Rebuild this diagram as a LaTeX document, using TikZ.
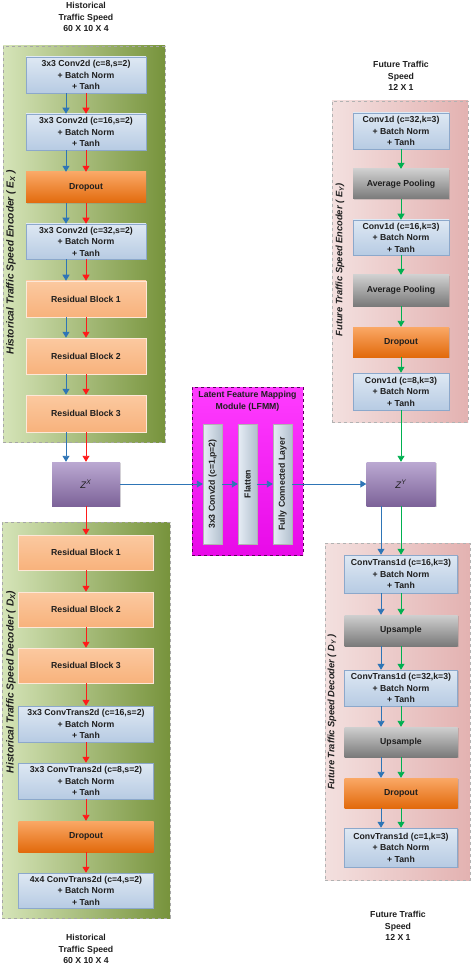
\documentclass[tikz,border=0pt]{standalone}
\usepackage{fontspec}
\setmainfont{Liberation Sans}
\usetikzlibrary{arrows.meta,shadows}
\definecolor{txt}{HTML}{1E1E1E}
\definecolor{greenL}{HTML}{D5E4B8}
\definecolor{greenR}{HTML}{77933C}
\definecolor{pinkL}{HTML}{F3E0DF}
\definecolor{pinkR}{HTML}{E3B2B1}
\definecolor{cvT}{HTML}{DEE8F3}
\definecolor{cvB}{HTML}{B7CBE3}
\definecolor{cvD}{HTML}{8CA8CB}
\definecolor{resT}{HTML}{FBC9A0}
\definecolor{resB}{HTML}{F8B27C}
\definecolor{drT}{HTML}{FAA866}
\definecolor{drB}{HTML}{E26A0C}
\definecolor{grT}{HTML}{CFCFCF}
\definecolor{grB}{HTML}{7A7A7A}
\definecolor{zT}{HTML}{BBA9D2}
\definecolor{zB}{HTML}{7D6399}
\definecolor{magT}{HTML}{FF3CFF}
\definecolor{magB}{HTML}{E80AE8}
\definecolor{barT}{HTML}{E6EDF5}
\definecolor{barB}{HTML}{B2C0CE}
\definecolor{bl}{HTML}{2E75B6}
\definecolor{rd}{HTML}{FF1A1A}
\definecolor{gn}{HTML}{00B050}
\tikzset{
  blk/.style={inner sep=0pt, align=center, text=txt,
    font=\fontsize{8.7}{11.5}\selectfont\bfseries,
    drop shadow={shadow xshift=1pt,shadow yshift=-1pt,opacity=0.3}},
  convbox/.style={blk, top color=cvT, bottom color=cvB, draw=cvD, line width=0.5pt},
  resbox/.style={blk, top color=resT, bottom color=resB, draw=white!70!resB, line width=0.5pt},
  dropbox/.style={blk, top color=drT, bottom color=drB},
  graybox/.style={blk, top color=grT, bottom color=grB},
  zbox/.style={blk, top color=zT, bottom color=zB, font=\fontsize{9.5}{11}\selectfont},
  barbox/.style={inner sep=0pt, left color=barT, right color=barB, draw=gray!60, line width=0.4pt,
    drop shadow={shadow xshift=1pt,shadow yshift=-1pt,opacity=0.3}},
  bartext/.style={rotate=90, inner sep=0pt, text=txt, font=\fontsize{8.7}{11}\selectfont\bfseries},
  gpanel/.style={inner sep=0pt, left color=greenL, right color=greenR, draw=gray!70, dashed, line width=0.6pt},
  ppanel/.style={inner sep=0pt, left color=pinkL, right color=pinkR, draw=gray!60, dashed, line width=0.6pt},
  mpanel/.style={inner sep=0pt, top color=magT, bottom color=magB, draw=violet!70!black, dashed, line width=0.6pt},
  sidelbl/.style={rotate=90, inner sep=0pt, text=txt, font=\fontsize{10.2}{12}\selectfont\bfseries\itshape},
  sidelblr/.style={sidelbl, font=\fontsize{9.3}{11}\selectfont\bfseries\itshape},
  ttl/.style={inner sep=0pt, align=center, text=txt, font=\fontsize{8.7}{11.6}\selectfont\bfseries},
  arr/.style={line width=0.9pt, -{Triangle[width=7pt,length=6pt]}},
  barr/.style={arr, draw=bl, fill=bl},
  rarr/.style={arr, draw=rd, fill=rd},
  garr/.style={arr, draw=gn, fill=gn},
}
\begin{document}
\begin{tikzpicture}[x=1pt,y=-1pt]
\useasboundingbox (0,0) rectangle (474,965);
% panels
\node[gpanel, minimum width=162pt, minimum height=396pt] (encL) at (84,244) {};
\node[gpanel, minimum width=168pt, minimum height=396pt] (decL) at (86,720) {};
\node[ppanel, minimum width=136pt, minimum height=321pt] (encR) at (400,261.5) {};
\node[ppanel, minimum width=145pt, minimum height=337pt] (decR) at (397.5,711.5) {};
\node[mpanel, minimum width=111pt, minimum height=168pt] (lfmm) at (247.5,471) {};
% side labels
\node[sidelbl] (lblEX) at (11,262) {Historical Traffic Speed Encoder ( E\textsubscript{X} )};
\node[sidelbl] (lblDX) at (11,682) {Historical Traffic Speed Decoder ( D\textsubscript{X})};
\node[sidelblr] (lblEY) at (340,260) {Future Traffic Speed Encoder ( E\textsubscript{Y})};
\node[sidelblr] (lblDY) at (332,712) {Future Traffic Speed Decoder ( D\textsubscript{Y} )};
% titles
\node[ttl] (tHin) at (86,17) {Historical\\Traffic Speed\\60 X 10 X 4};
\node[ttl] (tHout) at (86,949) {Historical\\Traffic Speed\\60 X 10 X 4};
\node[ttl] (tFin) at (401,76) {Future Traffic\\Speed\\12 X 1};
\node[ttl] (tFout) at (398,926) {Future Traffic\\Speed\\12 X 1};
\node[ttl] (tL) at (247.5,401) {Latent Feature Mapping\\Module (LFMM)};
% left encoder
\node[convbox, minimum width=120pt, minimum height=36pt] (e1) at (86,75) {3x3 Conv2d (c=8,s=2)\\+ Batch Norm\\+ Tanh};
\node[convbox, minimum width=120pt, minimum height=36pt] (e2) at (86,132) {3x3 Conv2d (c=16,s=2)\\+ Batch Norm\\+ Tanh};
\node[dropbox, minimum width=120pt, minimum height=31pt] (e3) at (86,187.5) {Dropout};
\node[convbox, minimum width=120pt, minimum height=35pt] (e4) at (86,241.5) {3x3 Conv2d (c=32,s=2)\\+ Batch Norm\\+ Tanh};
\node[resbox, minimum width=120pt, minimum height=36pt] (e5) at (86,299) {Residual Block 1};
\node[resbox, minimum width=120pt, minimum height=36pt] (e6) at (86,356) {Residual Block 2};
\node[resbox, minimum width=120pt, minimum height=37pt] (e7) at (86,413.5) {Residual Block 3};
% Z boxes
\node[zbox, minimum width=68pt, minimum height=44pt] (zx) at (86,484) {\textit{Z}\textsuperscript{\textit{X}}};
\node[zbox, minimum width=69pt, minimum height=44pt] (zy) at (401,484) {\textit{Z}\textsuperscript{\textit{Y}}};
% left decoder
\node[resbox, minimum width=135pt, minimum height=35pt] (d1) at (86,552.5) {Residual Block 1};
\node[resbox, minimum width=135pt, minimum height=35pt] (d2) at (86,609.5) {Residual Block 2};
\node[resbox, minimum width=135pt, minimum height=35pt] (d3) at (86,665.5) {Residual Block 3};
\node[convbox, minimum width=135pt, minimum height=36pt] (d4) at (86,724) {3x3 ConvTrans2d (c=16,s=2)\\+ Batch Norm\\+ Tanh};
\node[convbox, minimum width=135pt, minimum height=36pt] (d5) at (86,781) {3x3 ConvTrans2d (c=8,s=2)\\+ Batch Norm\\+ Tanh};
\node[dropbox, minimum width=135pt, minimum height=31pt] (d6) at (86,836.5) {Dropout};
\node[convbox, minimum width=135pt, minimum height=35pt] (d7) at (86,890.5) {4x4 ConvTrans2d (c=4,s=2)\\+ Batch Norm\\+ Tanh};
% right encoder
\node[convbox, minimum width=96pt, minimum height=36pt] (r1) at (401,131) {Conv1d (c=32,k=3)\\+ Batch Norm\\+ Tanh};
\node[graybox, minimum width=96pt, minimum height=30pt] (r2) at (401,184) {Average Pooling};
\node[convbox, minimum width=96pt, minimum height=35pt] (r3) at (401,237.5) {Conv1d (c=16,k=3)\\+ Batch Norm\\+ Tanh};
\node[graybox, minimum width=96pt, minimum height=31pt] (r4) at (401,290.5) {Average Pooling};
\node[dropbox, minimum width=96pt, minimum height=30pt] (r5) at (401,342) {Dropout};
\node[convbox, minimum width=96pt, minimum height=37pt] (r6) at (401,391.5) {Conv1d (c=8,k=3)\\+ Batch Norm\\+ Tanh};
% right decoder
\node[convbox, minimum width=113pt, minimum height=38pt] (q1) at (401,574) {ConvTrans1d (c=16,k=3)\\+ Batch Norm\\+ Tanh};
\node[graybox, minimum width=113pt, minimum height=31pt] (q2) at (401,630.5) {Upsample};
\node[convbox, minimum width=113pt, minimum height=36pt] (q3) at (401,688) {ConvTrans1d (c=32,k=3)\\+ Batch Norm\\+ Tanh};
\node[graybox, minimum width=113pt, minimum height=30pt] (q4) at (401,742) {Upsample};
\node[dropbox, minimum width=113pt, minimum height=30pt] (q5) at (401,793) {Dropout};
\node[convbox, minimum width=113pt, minimum height=39pt] (q6) at (401,847.5) {ConvTrans1d (c=1,k=3)\\+ Batch Norm\\+ Tanh};
% LFMM bars
\node[barbox, minimum width=19pt, minimum height=120pt] (b1) at (212.5,484) {};
\node[barbox, minimum width=19pt, minimum height=120pt] (b2) at (247.5,484) {};
\node[barbox, minimum width=19pt, minimum height=120pt] (b3) at (282.5,484) {};
\node[bartext] (bt1) at (b1) {3x3 Conv2d (c=1,p=2)};
\node[bartext] (bt2) at (b2) {Flatten};
\node[bartext] (bt3) at (b3) {Fully Connected Layer};
% left encoder arrows
\foreach \a/\b in {e1/e2,e2/e3,e3/e4,e4/e5,e5/e6,e6/e7,e7/zx}{
  \draw[barr] ([xshift=-20pt]\a.south) -- ([xshift=-20pt]\b.north);
  \draw[rarr] (\a.south) -- (\b.north);
}
\foreach \a/\b in {zx/d1,d1/d2,d2/d3,d3/d4,d4/d5,d5/d6,d6/d7}{
  \draw[rarr] (\a.south) -- (\b.north);
}
% LFMM path
\draw[barr] (zx.east) -- (b1.west);
\draw[barr] (b1.east) -- (b2.west);
\draw[barr] (b2.east) -- (b3.west);
\draw[barr] (b3.east) -- (zy.west);
% right encoder arrows
\foreach \a/\b in {r1/r2,r2/r3,r3/r4,r4/r5,r5/r6,r6/zy}{
  \draw[garr] (\a.south) -- (\b.north);
}
% right decoder arrows
\foreach \a/\b in {zy/q1,q1/q2,q2/q3,q3/q4,q4/q5,q5/q6}{
  \draw[barr] ([xshift=-20pt]\a.south) -- ([xshift=-20pt]\b.north);
  \draw[garr] (\a.south) -- (\b.north);
}
\end{tikzpicture}
\end{document}
